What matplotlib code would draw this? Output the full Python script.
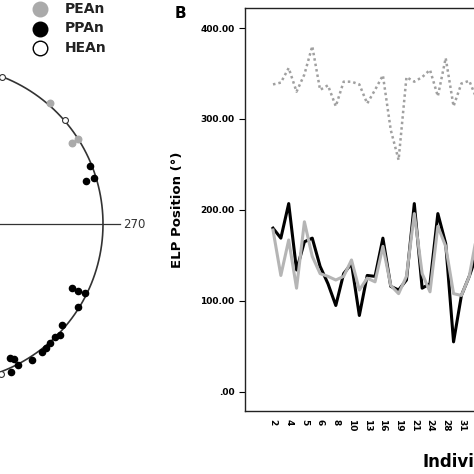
import numpy as np
import matplotlib.pyplot as plt

# ---- panel A data (angle deg, radius) ----
pean_ang = [49, 32.5, 32.6]
pean_r = [160, 151, 158]
hean_ang = [68.7, 41, -69.7]
hean_r = [158, 159, 160]
ppan_ang = [21.8, 17, 17.2, -26.7, -26.7, -26.2, -32, -44, -48.6, -40.8, -45.8, -50.7, -52.8, -57.4, -62.6, -63, -66, -64]
ppan_r = [156, 147, 156, 142, 149, 156, 157, 160, 159, 155, 158, 160, 161, 161, 159, 152, 162, 149]
circle_R = 158

# ---- panel B data ----
ids = ['2', '3', '4', '5', '5', '6', '7', '8', '9', '10', '12', '13', '14', '16', '17', '19', '20', '21', '22', '24', '26', '28', '29', '31', '32', '34', '36']
show = ['2', '', '4', '', '5', '', '6', '', '8', '', '10', '', '13', '', '16', '', '19', '', '21', '', '24', '', '28', '', '31', '', '34']
hean = [338, 340, 356, 330, 349, 380, 332, 337, 314, 341, 341, 338, 317, 332, 348, 288, 255, 346, 341, 346, 354, 325, 367, 314, 339, 342, 321]
ppan = [180, 169, 207, 134, 165, 169, 138, 119, 95, 130, 141, 84, 128, 127, 169, 116, 112, 123, 207, 114, 119, 196, 163, 55, 106, 127, 152]
pean = [178, 128, 167, 114, 187, 149, 130, 127, 123, 127, 145, 112, 125, 121, 160, 117, 108, 127, 196, 130, 110, 182, 160, 108, 106, 127, 174]

fig = plt.figure(figsize=(4.74, 4.74), dpi=100)
W = H = 474.0

# Panel A (circle centre lies off the left edge)
off = 55
axA = fig.add_axes([0, 0, 1, 1])
axA.set_xlim(off, off + 474)
axA.set_ylim(-250, 224)
axA.axis('off')
t = np.linspace(-np.pi, np.pi, 400)
axA.plot(circle_R * np.cos(t), circle_R * np.sin(t), color='#333333', lw=1.2)
axA.plot([off, off + 120], [0, 0], color='#333333', lw=0.9)
axA.text(off + 123, 0, '270', va='center', ha='left', fontsize=8.5, color='#333333')
def pol(a, r):
    a = np.radians(a); r = np.array(r)
    return r * np.cos(a), r * np.sin(a)
x, y = pol(pean_ang, pean_r)
axA.scatter(x, y, s=22, color='#aaaaaa', zorder=3)
x, y = pol(hean_ang, hean_r)
axA.scatter(x, y, s=18, facecolor='white', edgecolor='#333333', lw=0.8, zorder=3)
x, y = pol(ppan_ang, ppan_r)
axA.scatter(x, y, s=20, color='black', zorder=3)
# legend
for i, (lab, fc, ec) in enumerate([('PEAn', '#aaaaaa', '#aaaaaa'), ('PPAn', 'black', 'black'), ('HEAn', 'white', 'black')]):
    yy = 224 - (9 + 19.5 * i)
    axA.scatter([off + 40], [yy], s=110, facecolor=fc, edgecolor=ec, lw=1, zorder=3)
    axA.text(off + 65, yy, lab, va='center', ha='left', fontsize=10, fontweight='bold', color='#222222')
fig.text(180 / W, 1 - 14 / H, 'B', fontsize=11, fontweight='bold', ha='center', va='center')

# Panel B
l, r_, top, bot = 245, 620, 8, 411
axB = fig.add_axes([l / W, 1 - bot / H, (r_ - l) / W, (bot - top) / H])
xs = np.arange(len(ids))
axB.plot(xs, hean, color='#a0a0a0', lw=1.8, ls=(0, (1, 1.2)))
axB.plot(xs, ppan, color='black', lw=2.2)
axB.plot(xs, pean, color='#b5b5b5', lw=2.2)
axB.set_xlim(-(273 - l) / 7.85, -(273 - l) / 7.85 + (r_ - l) / 7.85)
axB.set_ylim(-21, 422)
axB.set_yticks([0, 100, 200, 300, 400])
axB.set_yticklabels(['.00', '100.00', '200.00', '300.00', '400.00'], fontsize=6.5, fontweight='bold')
axB.set_xticks(xs[::2])
axB.set_xticklabels([s for s in show[::2]], rotation=-90, fontsize=6.5, fontweight='bold')
axB.tick_params(axis='x', length=0, pad=6)
axB.tick_params(axis='y', length=4)
for s in axB.spines.values():
    s.set_color('#222222'); s.set_linewidth(1)
axB.set_ylabel('ELP Position (°)', fontsize=9.5, fontweight='bold', labelpad=12)
fig.text(423 / W, 1 - 462 / H, 'Individual', fontsize=12, fontweight='bold', ha='left', va='center')

fig.savefig('out.png', dpi=100)
